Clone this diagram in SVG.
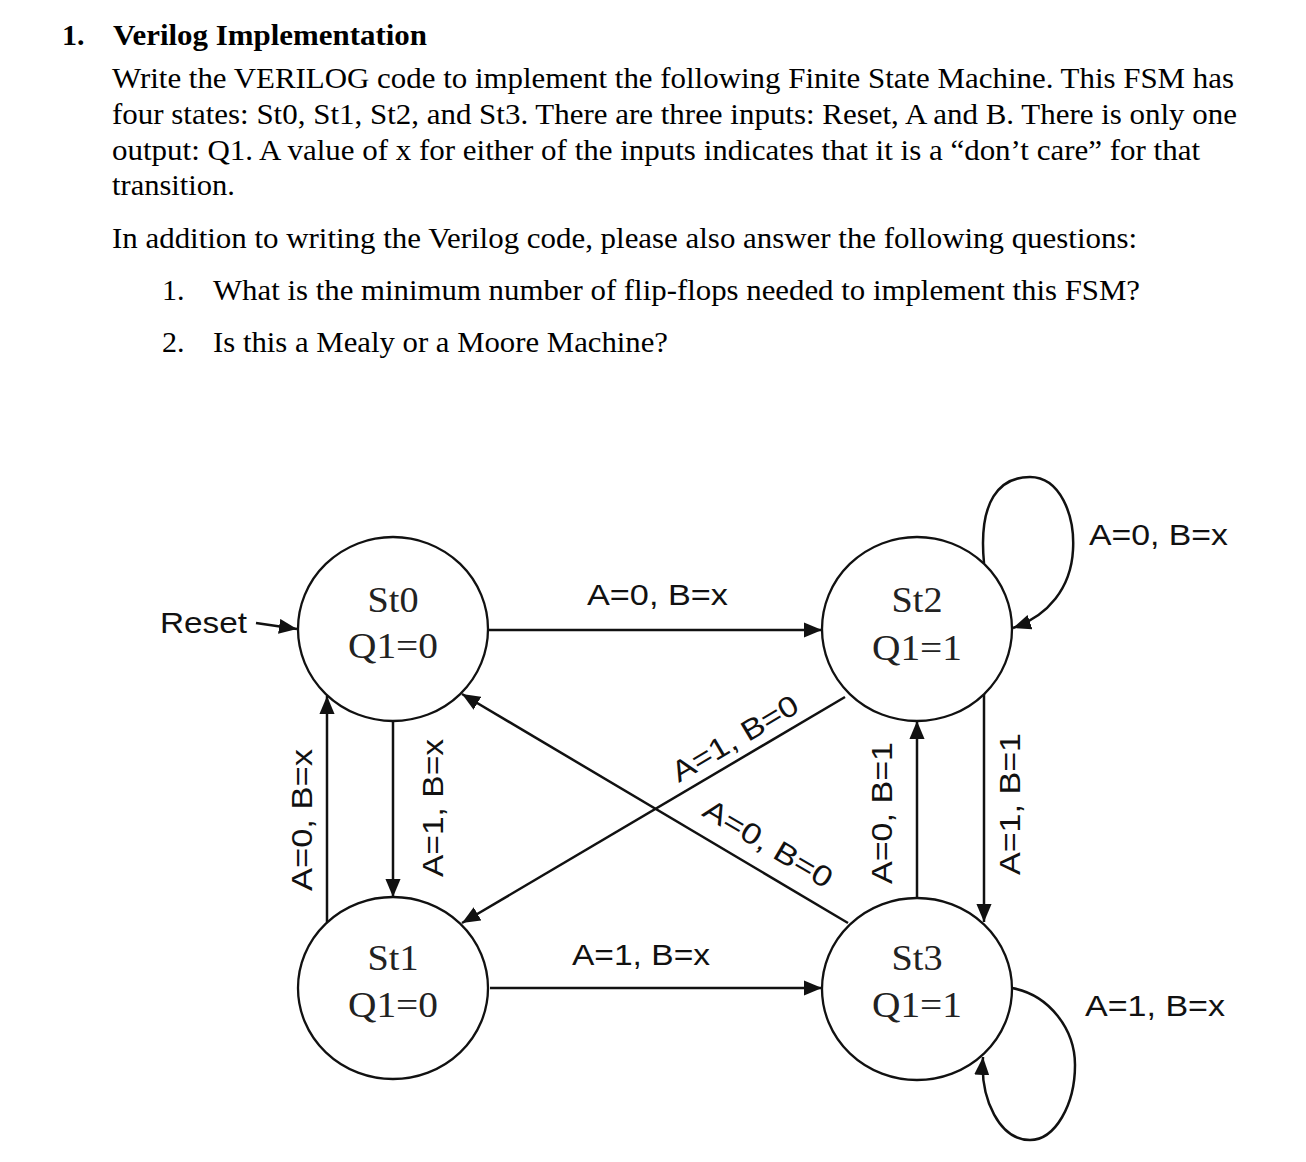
<svg xmlns="http://www.w3.org/2000/svg" width="1306" height="1162" viewBox="0 0 1306 1162">
<style>
.doc{font-family:"Liberation Serif","Times New Roman",serif;font-size:30px;fill:#000}
.bold{font-weight:bold}
.st{font-family:"Liberation Serif","Times New Roman",serif;font-size:35px;fill:#222;text-anchor:middle}
.lbl{font-family:"Liberation Sans",Arial,sans-serif;font-size:29px;fill:#111}
.node{fill:#fff;stroke:#111;stroke-width:2.3}
.edge{fill:none;stroke:#111;stroke-width:2.5;marker-end:url(#ah)}
</style>
<defs>
<marker id="ah" viewBox="0 0 10 8.4" refX="10" refY="4.2" markerWidth="7.2" markerHeight="6.05" orient="auto" markerUnits="strokeWidth">
<path d="M0,0 L10,4.2 L0,8.4 z" fill="#111"/>
</marker>
</defs>
<rect width="1306" height="1162" fill="#fff"/>
<g id="header">
<text class="doc bold" x="62" y="45">1.</text>
<text class="doc bold" x="113" y="45" textLength="314" lengthAdjust="spacingAndGlyphs">Verilog Implementation</text>
<text class="doc" x="112" y="88" textLength="1122" lengthAdjust="spacingAndGlyphs">Write the VERILOG code to implement the following Finite State Machine. This FSM has</text>
<text class="doc" x="112" y="124" textLength="1125" lengthAdjust="spacingAndGlyphs">four states: St0, St1, St2, and St3. There are three inputs: Reset, A and B. There is only one</text>
<text class="doc" x="112" y="160" textLength="1088" lengthAdjust="spacingAndGlyphs">output: Q1. A value of x for either of the inputs indicates that it is a “don’t care” for that</text>
<text class="doc" x="112" y="195" textLength="123" lengthAdjust="spacingAndGlyphs">transition.</text>
<text class="doc" x="112" y="248" textLength="1025" lengthAdjust="spacingAndGlyphs">In addition to writing the Verilog code, please also answer the following questions:</text>
<text class="doc" x="162" y="300">1.</text>
<text class="doc" x="213" y="300" textLength="927" lengthAdjust="spacingAndGlyphs">What is the minimum number of flip-flops needed to implement this FSM?</text>
<text class="doc" x="162" y="352">2.</text>
<text class="doc" x="213" y="352" textLength="455" lengthAdjust="spacingAndGlyphs">Is this a Mealy or a Moore Machine?</text>
</g>
<g id="connectors">
<path class="edge" d="M256,623 L297,629"/>
<path class="edge" d="M488,630 L822,630"/>
<path class="edge" d="M490,988 L822,988"/>
<path class="edge" d="M327,922 L327,696"/>
<path class="edge" d="M393,721 L393,897"/>
<path class="edge" d="M917,898 L917,721"/>
<path class="edge" d="M984,694 L984,922"/>
<path class="edge" d="M848,923 L462,694"/>
<path class="edge" d="M845,697 L462,923"/>
<path class="edge" d="M984,563 C978,500 1000,477 1030,477 C1060,477 1075,515 1073,550 C1071,588 1048,616 1013,628"/>
<path class="edge" d="M1012,988 C1050,995 1075,1030 1075,1065 C1075,1105 1055,1140 1030,1140 C1000,1140 980,1100 983,1057"/>
</g>
<g id="edge-labels">
<text class="lbl" x="160" y="633" textLength="87" lengthAdjust="spacingAndGlyphs">Reset</text>
<text class="lbl" x="587" y="605" textLength="141" lengthAdjust="spacingAndGlyphs">A=0, B=x</text>
<text class="lbl" x="572" y="965" textLength="138" lengthAdjust="spacingAndGlyphs">A=1, B=x</text>
<text class="lbl" x="1089" y="545" textLength="139" lengthAdjust="spacingAndGlyphs">A=0, B=x</text>
<text class="lbl" x="1085" y="1016" textLength="140" lengthAdjust="spacingAndGlyphs">A=1, B=x</text>
<text class="lbl" transform="translate(312,820) rotate(-90)" text-anchor="middle" textLength="142" lengthAdjust="spacingAndGlyphs">A=0, B=x</text>
<text class="lbl" transform="translate(443,808) rotate(-90)" text-anchor="middle" textLength="138" lengthAdjust="spacingAndGlyphs">A=1, B=x</text>
<text class="lbl" transform="translate(892,813) rotate(-90)" text-anchor="middle" textLength="142" lengthAdjust="spacingAndGlyphs">A=0, B=1</text>
<text class="lbl" transform="translate(1020,804) rotate(-90)" text-anchor="middle" textLength="142" lengthAdjust="spacingAndGlyphs">A=1, B=1</text>
<text class="lbl" transform="translate(740,747) rotate(-30.5)" text-anchor="middle" textLength="142" lengthAdjust="spacingAndGlyphs">A=1, B=0</text>
<text class="lbl" transform="translate(763,852) rotate(30.7)" text-anchor="middle" textLength="145" lengthAdjust="spacingAndGlyphs">A=0, B=0</text>
</g>
<g id="St0">
<ellipse class="node" cx="393" cy="629" rx="95" ry="92"/>
<text class="st" x="393" y="612" textLength="51" lengthAdjust="spacingAndGlyphs">St0</text>
<text class="st" x="393" y="658" textLength="90" lengthAdjust="spacingAndGlyphs">Q1=0</text>
</g>
<g id="St2">
<ellipse class="node" cx="917" cy="629" rx="95" ry="92"/>
<text class="st" x="917" y="612" textLength="51" lengthAdjust="spacingAndGlyphs">St2</text>
<text class="st" x="917" y="660" textLength="90" lengthAdjust="spacingAndGlyphs">Q1=1</text>
</g>
<g id="St1">
<ellipse class="node" cx="393" cy="988" rx="95" ry="91"/>
<text class="st" x="393" y="970" textLength="51" lengthAdjust="spacingAndGlyphs">St1</text>
<text class="st" x="393" y="1017" textLength="90" lengthAdjust="spacingAndGlyphs">Q1=0</text>
</g>
<g id="St3">
<ellipse class="node" cx="917" cy="989" rx="95" ry="91"/>
<text class="st" x="917" y="970" textLength="51" lengthAdjust="spacingAndGlyphs">St3</text>
<text class="st" x="917" y="1017" textLength="90" lengthAdjust="spacingAndGlyphs">Q1=1</text>
</g>
</svg>
